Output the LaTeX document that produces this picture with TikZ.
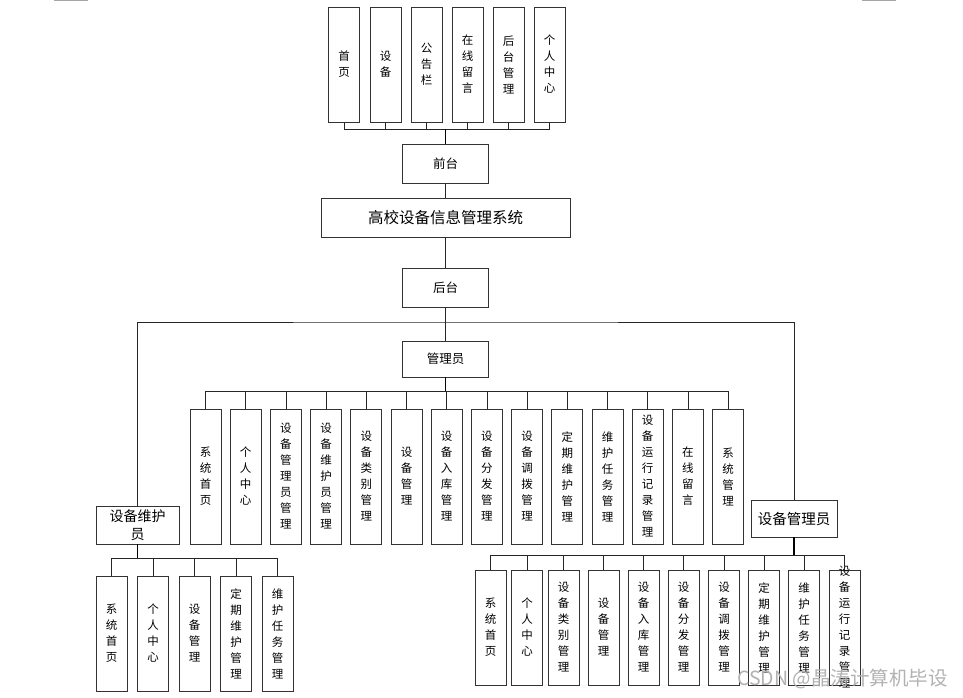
\documentclass[tikz,border=0pt]{standalone}
\usepackage{fontspec}
\newfontfamily\cjk{Noto Sans CJK SC}
\begin{document}
\begin{tikzpicture}[x=1pt,y=-1pt,
  box/.style={draw=black!80,line width=0.9pt,fill=white,inner sep=0pt,align=center,font=\cjk\fontsize{11.5}{16}\selectfont},
  vbox/.style={box,minimum width=31pt},
  tall/.style={vbox,minimum height=135pt},
  mid/.style={vbox,minimum height=115pt},
  hbox/.style={box,minimum width=86pt,minimum height=39pt,font=\cjk\fontsize{12.5}{15}\selectfont},
  label/.style={inner sep=0pt,align=center,font=\cjk\fontsize{11.5}{16}\selectfont},
  conn/.style={draw=black!85,line width=0.8pt},
  stem/.style={draw=black,line width=1.6pt}]
\useasboundingbox (0,0) rectangle (963,697);
\draw[gray!70,line width=0.8pt] (54,0.4) -- (88,0.4) (862,0.4) -- (896,0.4);
% top row
\node[mid] (t1) at (344,64.5) {首\\页};
\node[mid] (t2) at (385.5,64.5) {设\\备};
\node[mid] (t3) at (426.5,64.5) {公\\告\\栏};
\node[mid] (t4) at (467.5,64.5) {在\\线\\留\\言};
\node[mid] (t5) at (508.5,64.5) {后\\台\\管\\理};
\node[mid] (t6) at (549.5,64.5) {个\\人\\中\\心};
\node[hbox] (qt) at (445.5,163.5) {前台};
\node[box,minimum width=249pt,minimum height=39pt,font=\cjk\fontsize{15.5}{18}\selectfont] (sys) at (445.5,217.5) {高校设备信息管理系统};
\node[hbox] (ht) at (445.5,287.5) {后台};
\node[hbox,minimum height=36pt] (gly) at (445.5,359) {管理员};
\foreach \i in {1,...,6}{\draw[conn] (qt.north) -- (445.5,129) -| (t\i.south);}
\draw[stem] (qt.north) -- (445.5,129);
\draw[conn] (qt.south) -- (sys.north);
\draw[conn] (sys.south) -- (ht.north);
\draw[conn] (ht.south) -- (gly.north);
% admin children
\node[tall] (a1) at (205.5,476.5) {系\\统\\首\\页};
\node[tall] (a2) at (245.7,476.5) {个\\人\\中\\心};
\node[tall] (a3) at (285.9,476.5) {设\\备\\管\\理\\员\\管\\理};
\node[tall] (a4) at (326.1,476.5) {设\\备\\维\\护\\员\\管\\理};
\node[tall] (a5) at (366.3,476.5) {设\\备\\类\\别\\管\\理};
\node[tall] (a6) at (406.5,476.5) {设\\备\\管\\理};
\node[tall] (a7) at (446.7,476.5) {设\\备\\入\\库\\管\\理};
\node[tall] (a8) at (486.9,476.5) {设\\备\\分\\发\\管\\理};
\node[tall] (a9) at (527.1,476.5) {设\\备\\调\\拨\\管\\理};
\node[tall] (a10) at (567.3,476.5) {定\\期\\维\\护\\管\\理};
\node[tall] (a11) at (607.5,476.5) {维\\护\\任\\务\\管\\理};
\node[tall] (a12) at (647.7,476.5) {设\\备\\运\\行\\记\\录\\管\\理};
\node[tall] (a13) at (687.9,476.5) {在\\线\\留\\言};
\node[tall] (a14) at (728.1,476.5) {系\\统\\管\\理};
\foreach \i in {1,...,14}{\draw[conn] (gly.south) -- (445.5,391) -| (a\i.north);}
\draw[stem] (gly.south) -- (445.5,391);
% maintenance staff
\node[box,minimum width=83pt,minimum height=38pt,font=\cjk\fontsize{14}{18}\selectfont] (wh) at (137.5,525) {设备维护\\员};
\node[mid] (w1) at (111.5,633.5) {系\\统\\首\\页};
\node[mid] (w2) at (153,633.5) {个\\人\\中\\心};
\node[mid] (w3) at (194.5,633.5) {设\\备\\管\\理};
\node[mid] (w4) at (236,633.5) {定\\期\\维\\护\\管\\理};
\node[mid] (w5) at (277.5,633.5) {维\\护\\任\\务\\管\\理};
\foreach \i in {1,...,5}{\draw[conn] (wh.south) -- (137.5,558) -| (w\i.north);}
\draw[stem] (wh.south) -- (137.5,558);
% equipment manager
\node[box,minimum width=86pt,minimum height=37pt,font=\cjk\fontsize{14.5}{18}\selectfont] (sb) at (794,518.5) {设备管理员};
\node[mid] (s1) at (490.5,627.5) {系\\统\\首\\页};
\node[mid] (s2) at (527,627.5) {个\\人\\中\\心};
\node[mid] (s3) at (563.5,627.5) {设\\备\\类\\别\\管\\理};
\node[mid] (s4) at (603.5,627.5) {设\\备\\管\\理};
\node[mid] (s5) at (643.5,627.5) {设\\备\\入\\库\\管\\理};
\node[mid] (s6) at (683.5,627.5) {设\\备\\分\\发\\管\\理};
\node[mid] (s7) at (724,627.5) {设\\备\\调\\拨\\管\\理};
\node[mid] (s8) at (764,627.5) {定\\期\\维\\护\\管\\理};
\node[mid] (s9) at (804,627.5) {维\\护\\任\\务\\管\\理};
\node[mid] (s10) at (844.5,627.5) {};
\node[label] (s10t) at (s10.center) {设\\备\\运\\行\\记\\录\\管\\理};
\foreach \i in {1,...,10}{\draw[conn] (sb.south) -- (794,555) -| (s\i.north);}
\draw[stem] (sb.south) -- (794,555);
% frame from backend
\coordinate (ftop) at (445.5,322);
\draw[conn] (wh.north) |- (ftop) -| (sb.north);
% watermark
\node[anchor=east,inner sep=0pt,text=gray!60,font=\cjk\fontsize{19.5}{21}\selectfont] (wm) at (948,679) {CSDN @晶涛计算机毕设};
\end{tikzpicture}
\end{document}
